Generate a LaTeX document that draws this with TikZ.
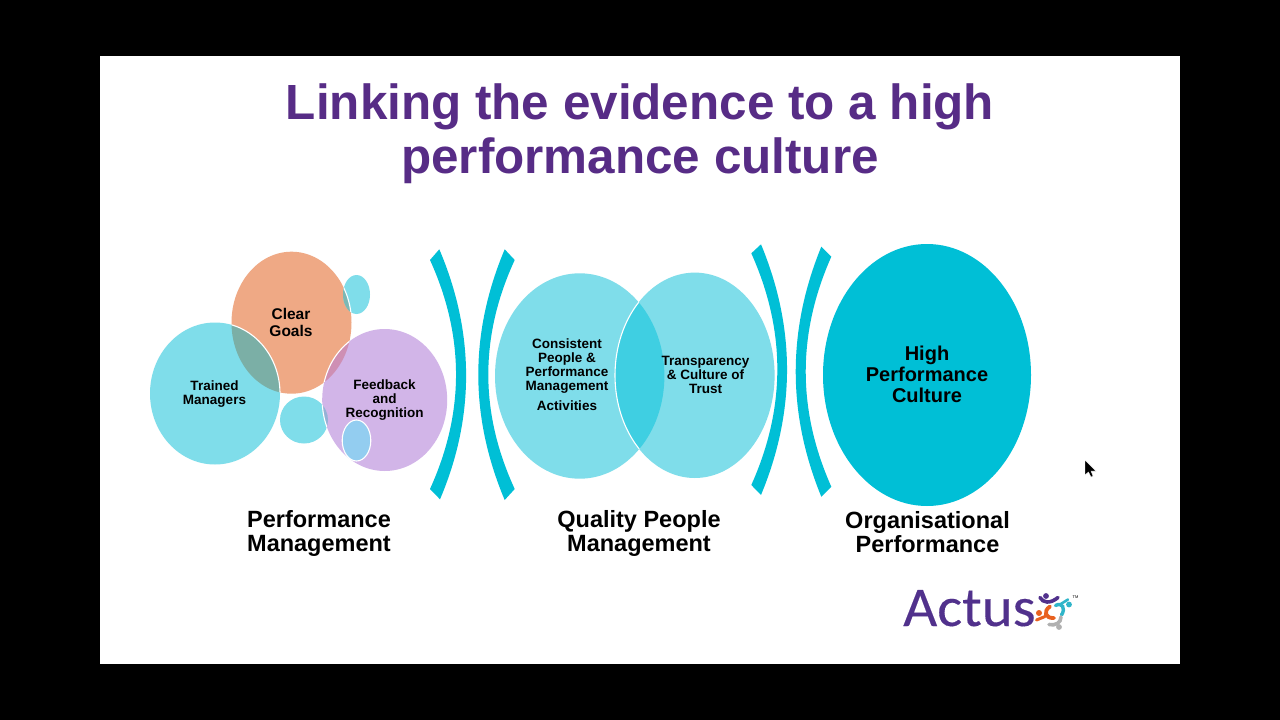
\documentclass[tikz,border=0pt]{standalone}
\usepackage{fontspec}
\setmainfont{Liberation Sans}
\newfontfamily\logofont[FakeStretch=1.05,FakeBold=0.25]{Carlito}
\definecolor{ltteal}{HTML}{7FDDEA}
\definecolor{teal2}{HTML}{00BFD6}
\definecolor{overteal}{HTML}{3FCFE2}
\definecolor{orangeb}{HTML}{EFA985}
\definecolor{purpleb}{HTML}{D2B5E8}
\definecolor{tgover}{HTML}{7BAFA6}
\definecolor{fgover}{HTML}{CE8FB4}
\definecolor{smover}{HTML}{93CDF0}
\definecolor{titlep}{HTML}{572C86}
\definecolor{logop}{HTML}{51318C}
\definecolor{logot}{HTML}{2FB5C9}
\definecolor{logoo}{HTML}{E8611F}
\definecolor{logog}{HTML}{B0B0B0}
\tikzset{
  x=1pt,y=-1pt,
  bubtxt/.style={inner sep=0pt,align=center,font=\bfseries\fontsize{13.5}{14}\selectfont,text=black},
  goalstxt/.style={inner sep=0pt,align=center,font=\bfseries\fontsize{15.5}{16.5}\selectfont,text=black},
  bigtxt/.style={inner sep=0pt,align=center,font=\bfseries\fontsize{20}{21}\selectfont,text=black},
  captxt/.style={inner sep=0pt,align=center,font=\bfseries\fontsize{23.5}{24.5}\selectfont,text=black},
  bandfill/.style={fill=teal2,draw=none},
  wedge/.style={draw=white,line width=1.1pt}
}
\begin{document}
\begin{tikzpicture}
\useasboundingbox (0,0) rectangle (1280,720);
\fill[black] (0,0) rectangle (1280,720);
\fill[white] (100,56) rectangle (1180,664);
% left cluster
\fill[orangeb] (291.5,322.7) ellipse [x radius=60,y radius=71];
\fill[ltteal] (356.5,294.5) ellipse [x radius=13.5,y radius=19.5];
\begin{scope}
 \clip (291.5,322.7) ellipse [x radius=60,y radius=71];
 \fill[tgover!80!ltteal] (356.5,294.5) ellipse [x radius=13.5,y radius=19.5];
\end{scope}
\begin{scope}
 \clip (356.5,294.5) ellipse [x radius=13.5,y radius=19.5];
 \draw[wedge] (291.5,322.7) ellipse [x radius=60,y radius=71];
\end{scope}
\fill[ltteal] (304,420) ellipse [x radius=24,y radius=23.5];
\fill[ltteal] (215,393.5) ellipse [x radius=65,y radius=71];
\begin{scope}
 \clip (291.5,322.7) ellipse [x radius=60,y radius=71];
 \fill[tgover] (215,393.5) ellipse [x radius=65,y radius=71];
 \draw[wedge] (215,393.5) ellipse [x radius=65,y radius=71];
\end{scope}
\fill[purpleb] (384.7,400) ellipse [x radius=62.5,y radius=71];
\begin{scope}
 \clip (384.7,400) ellipse [x radius=62.5,y radius=71];
 \fill[fgover] (291.5,322.7) ellipse [x radius=60,y radius=71];
 \fill[smover!70!purpleb!90!black] (304,420) ellipse [x radius=24,y radius=23.5];
\end{scope}
\begin{scope}
 \clip (291.5,322.7) ellipse [x radius=60,y radius=71];
 \draw[wedge] (384.7,400) ellipse [x radius=62.5,y radius=71];
\end{scope}
\begin{scope}
 \clip (304,420) ellipse [x radius=24,y radius=23.5];
 \draw[wedge] (384.7,400) ellipse [x radius=62.5,y radius=71];
\end{scope}
\fill[smover] (356.5,440.5) ellipse [x radius=14.3,y radius=20.5];
\draw[wedge] (356.5,440.5) ellipse [x radius=14.3,y radius=20.5];
% brackets
\fill[bandfill] (439.3,249.3) .. controls (474.7,332.4) and (475.1,416.9) .. (440,499.3) -- (430,489) .. controls (464.7,412.7) and (464.7,336.3) .. (430,260) -- cycle;
\fill[bandfill] (504.7,249.3) .. controls (469.5,332.9) and (469.5,416.4) .. (504.7,500) -- (514.7,489) .. controls (479.5,412.7) and (479.5,336.3) .. (514.7,260) -- cycle;
\fill[bandfill] (761,244.3) .. controls (795.7,327.9) and (795.7,411.4) .. (761,495) -- (751.3,485) .. controls (786,407.8) and (786,330.5) .. (751.3,253.3) -- cycle;
\fill[bandfill] (821.3,246.7) .. controls (787.2,330) and (787.2,413.4) .. (821.3,496.7) -- (831.3,486.7) .. controls (797.2,410) and (797.2,333.4) .. (831.3,256.7) -- cycle;
% middle
\fill[ltteal] (579.7,376) ellipse [x radius=84.7,y radius=102.7];
\fill[ltteal] (694.8,375.3) ellipse [x radius=79.8,y radius=102.7];
\begin{scope}
 \clip (579.7,376) ellipse [x radius=84.7,y radius=102.7];
 \fill[overteal] (694.8,375.3) ellipse [x radius=79.8,y radius=102.7];
 \draw[wedge] (694.8,375.3) ellipse [x radius=79.8,y radius=102.7];
\end{scope}
\fill[teal2] (927,375) ellipse [x radius=104,y radius=131];
% texts
\node[inner sep=0pt,align=center,text=titlep,font=\bfseries\fontsize{49.4}{54}\selectfont] (title) at (640,134) {Linking the evidence to a high\\performance culture};
\node[goalstxt] (goals) at (291,322.5) {Clear\\Goals};
\node[bubtxt] (trained) at (214.5,394.5) {Trained\\Managers};
\node[bubtxt] (feedback) at (384.5,400.5) {Feedback\\and\\Recognition};
\node[bubtxt] (cons) at (567,366.5) {Consistent\\People \&\\Performance\\Management};
\node[bubtxt] (act) at (567,405.5) {Activities};
\node[bubtxt] (trans) at (705.5,374.5) {Transparency\\\& Culture of\\Trust};
\node[bigtxt] (hpc) at (927,374) {High\\Performance\\Culture};
\node[captxt] (pm) at (319,533.5) {Performance\\Management};
\node[captxt] (qpm) at (639,533.5) {Quality People\\Management};
\node[captxt] (op) at (927.5,532) {Organisational\\Performance};
% logo
\node[inner sep=0pt,anchor=base west,text=logop,font=\logofont\fontsize{56}{56}\selectfont] (logo) at (903,626) {Actus};
% logo icon
\draw[logop,line width=3.6pt,line cap=round] (1040,597.5) .. controls (1043,603) and (1050,604) .. (1058,597.5);
\fill[logop] (1046,596) circle [radius=2.9];
\draw[logot,line width=3.4pt,line cap=round] (1055.5,605.5) .. controls (1062,602) and (1066,608) .. (1061.5,615);
\draw[logot,line width=2.6pt,line cap=round] (1060,604.5) -- (1068,599.5);
\fill[logot] (1069,604.5) circle [radius=2.9];
\draw[logoo,line width=3.8pt,line cap=round] (1050,606.5) .. controls (1043,611) and (1045,618.5) .. (1054,618);
\draw[logoo,line width=3pt,line cap=round] (1045,616.5) -- (1036.5,620);
\fill[logoo] (1039,613) circle [radius=3];
\draw[logog,line width=3.6pt,line cap=round] (1061,617) .. controls (1061,623) and (1055,626) .. (1049,624.5);
\fill[logog] (1059,627) circle [radius=2.9];
\node[inner sep=0pt,text=black,font=\fontsize{4}{4}\selectfont] (tm) at (1075.5,597.5) {TM};
% cursor
\fill[black,draw=white,line width=.4pt] (1085,460) -- (1085,475) -- (1088.5,472) -- (1091,477) -- (1093,476) -- (1091,471) -- (1096,471) -- cycle;
\end{tikzpicture}
\end{document}
